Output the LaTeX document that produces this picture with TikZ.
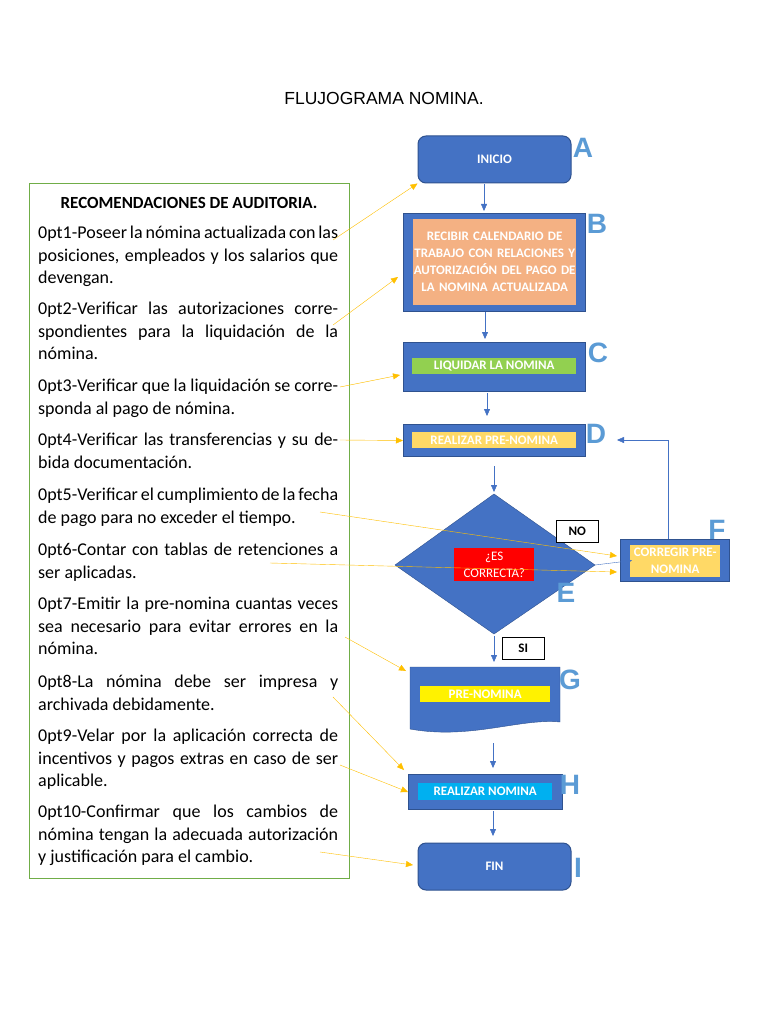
\documentclass[tikz,border=0pt]{standalone}
\usepackage{fontspec}
\setmainfont{Carlito}
\newfontfamily\arialf{Liberation Sans}
\usetikzlibrary{arrows.meta}
\definecolor{bl}{HTML}{4472C4}
\definecolor{dbl}{HTML}{2F528F}
\definecolor{lbl}{HTML}{5B9BD5}
\definecolor{yel}{HTML}{FFC000}
\definecolor{org}{HTML}{F4B183}
\definecolor{grn}{HTML}{92D050}
\definecolor{ylw}{HTML}{FFD966}
\definecolor{lgrn}{HTML}{70AD47}
\definecolor{cyn}{HTML}{00B0F0}
\tikzset{
 outer/.style={draw=dbl,line width=1pt,fill=bl,anchor=north west,inner sep=0},
 inner/.style={fill=#1,anchor=north west,inner sep=0,text=white,font=\bfseries\fontsize{13}{17}\selectfont,align=center},
 lett/.style={text=lbl,font=\arialf\bfseries\fontsize{28}{28}\selectfont},
 para/.style={anchor=north west,text width=300pt,align=justify,inner sep=0,font=\fontsize{18}{22.5}\selectfont\hyphenpenalty=10000\exhyphenpenalty=10000},
 barr/.style={draw=bl,-{Triangle[length=7pt,width=6pt]}},
 yarr/.style={draw=yel,-{Triangle[length=7pt,width=6pt]}},
 lab/.style={draw,fill=white,inner sep=0,anchor=north west,font=\bfseries\fontsize{13}{15}\selectfont}
}
\begin{document}
\begin{tikzpicture}[x=1pt,y=-1pt]
\useasboundingbox (0,0) rectangle (768,1024);
\fill[white] (0,0) rectangle (768,1024);
\node[font=\arialf\fontsize{17.5}{20}\selectfont] (title) at (384,98) {FLUJOGRAMA NOMINA.};
% left box
\draw[lgrn,line width=1pt] (29,184) rectangle (349,878);
\node[font=\bfseries\fontsize{17}{20}\selectfont] (rt) at (189,203) {RECOMENDACIONES DE AUDITORIA.};
\node[para] (p1) at (38,226) {1-Poseer la nómina actualizada con las posiciones, empleados y los salarios que devengan.};
\node[para] (p2) at (38,302) {2-Verificar las autorizaciones correspondientes para la liquidación de la nómina.};
\node[para] (p3) at (38,379) {3-Verificar que la liquidación se corresponda al pago de nómina.};
\node[para] (p4) at (38,433) {4-Verificar las transferencias y su debida documentación.};
\node[para] (p5) at (38,488) {5-Verificar el cumplimiento de la fecha de pago para no exceder el tiempo.};
\node[para] (p6) at (38,543) {6-Contar con tablas de retenciones a ser aplicadas.};
\node[para] (p7) at (38,597) {7-Emitir la pre-nomina cuantas veces sea necesario para evitar errores en la nómina.};
\node[para] (p8) at (38,675) {8-La nómina debe ser impresa y archivada debidamente.};
\node[para] (p9) at (38,729) {9-Velar por la aplicación correcta de incentivos y pagos extras en caso de ser aplicable.};
\node[para] (p10) at (38,805) {10-Confirmar que los cambios de nómina tengan la adecuada autorización y justificación para el cambio.};
% flow
\node[draw=dbl,line width=1pt,fill=bl,rounded corners=8pt,minimum width=153pt,minimum height=47pt,text=white,font=\bfseries\fontsize{13}{15}\selectfont] (A) at (494.5,159.5) {INICIO};
\node[outer,minimum width=182pt,minimum height=98pt] (B) at (403,213) {};
\node[inner=org,minimum width=163pt,minimum height=86pt,text width=163pt] (Bi) at (413,219) {RECIBIR CALENDARIO DE TRABAJO CON RELACIONES Y AUTORIZACIÓN DEL PAGO DE LA NOMINA ACTUALIZADA};
\node[outer,minimum width=182pt,minimum height=49pt] (C) at (403,342) {};
\node[inner=grn,minimum width=164pt,minimum height=16pt] (Ci) at (412,358) {LIQUIDAR LA NOMINA};
\node[outer,minimum width=182pt,minimum height=32pt] (D) at (403,424) {};
\node[inner=ylw,minimum width=164pt,minimum height=16pt] (Di) at (412,432) {REALIZAR PRE-NOMINA};
\draw[dbl,fill=bl] (494,494) -- (595,565) -- (494,634) -- (395,565) -- cycle;
\coordinate (Er) at (595,565);
\node[inner=red,minimum width=80pt,minimum height=33pt,font=\fontsize{13}{17}\selectfont] (Ei) at (454,548) {¿ES\\CORRECTA?};
\node[lab,minimum width=42pt,minimum height=22pt] (no) at (556,520) {NO};
\node[lab,minimum width=42pt,minimum height=22pt] (si) at (502,637) {SI};
\node[outer,minimum width=109pt,minimum height=42pt] (F) at (620,539) {};
\node[inner=ylw,minimum width=90pt,minimum height=32pt,font=\bfseries\fontsize{13}{17}\selectfont] (Fi) at (630,545) {CORREGIR PRE-\\NOMINA};
\draw[dbl,fill=bl] (410,667) -- (560,667) -- (560,722) .. controls (520,718) and (470,740) .. (410,729) -- cycle;
\node[inner=yellow,minimum width=130pt,minimum height=16pt] (Gi) at (420,686) {PRE-NOMINA};
\node[outer,minimum width=154pt,minimum height=35pt] (H) at (408,774) {};
\node[inner=cyn,minimum width=134pt,minimum height=17pt] (Hi) at (418,783) {REALIZAR NOMINA};
\node[draw=dbl,line width=1pt,fill=bl,rounded corners=8pt,minimum width=153pt,minimum height=47pt,text=white,font=\bfseries\fontsize{13}{15}\selectfont] (I) at (494.5,866.5) {FIN};
% letters
\node[lett] at (583,148) {A};
\node[lett] at (597,224) {B};
\node[lett] at (598,353) {C};
\node[lett] at (596,434) {D};
\node[lett] at (566,593) {E};
\node[lett] at (717,530) {F};
\node[lett] at (570,680) {G};
\node[lett] at (570,785) {H};
\node[lett] at (578,868) {I};
% blue arrows
\coordinate (a1) at (484,184); \coordinate (a2) at (484,211);
\coordinate (b1) at (485,312); \coordinate (b2) at (485,339);
\coordinate (c1) at (487,393); \coordinate (c2) at (487,416);
\coordinate (d1) at (494,466); \coordinate (d2) at (494,492);
\coordinate (e1) at (494,636); \coordinate (e2) at (494,662);
\coordinate (g1) at (493,743); \coordinate (g2) at (493,768);
\coordinate (h1) at (493,811); \coordinate (h2) at (493,836);
\draw[barr] (a1) -- (a2);
\draw[barr] (b1) -- (b2);
\draw[barr] (c1) -- (c2);
\draw[barr] (d1) -- (d2);
\draw[barr] (e1) -- (e2);
\draw[barr] (g1) -- (g2);
\draw[barr] (h1) -- (h2);
\draw[barr] (Er) -- ([xshift=12pt]F.west);
\coordinate (f1) at (668,539); \coordinate (f2) at (617,440);
\draw[barr] (f1) |- (f2);
% yellow arrows
\draw[yarr] (333,240) -- (A.south west);
\draw[yarr] (333,325) -- (398,277);
\draw[yarr] (340,387) -- (400,375);
\draw[yarr] (340,440) -- (D.west);
\draw[yarr] (320,512) -- (617,556);
\draw[yarr] (270,563) -- (617,572);
\draw[yarr] (345,637) -- (406,671);
\draw[yarr] (333,697) -- (404,770);
\draw[yarr] (340,765) -- (H.west);
\draw[yarr] (320,852) -- (413,865);
\end{tikzpicture}
\end{document}
